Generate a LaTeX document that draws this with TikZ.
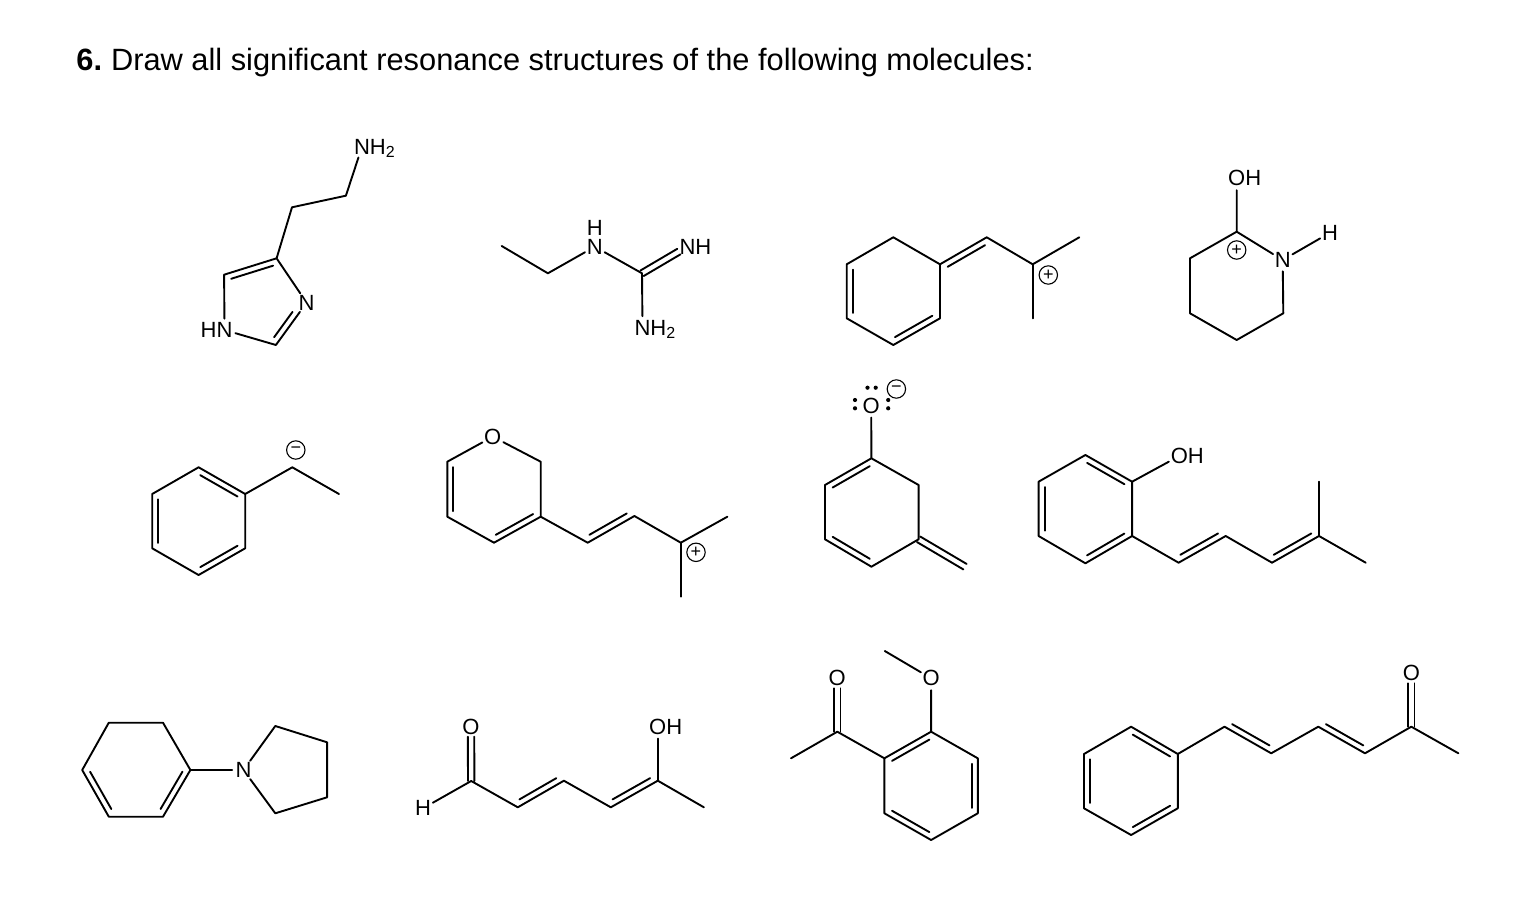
\documentclass[tikz,border=0pt]{standalone}
\usepackage{fontspec}
\setmainfont{Liberation Sans}
\usetikzlibrary{calc}
\tikzset{
  bond/.style={line width=0.95pt,line cap=round,line join=round,black},
  atom/.style={circle,inner sep=0pt,font=\fontsize{11}{13}\selectfont,text=black},
  chg/.style={circle,draw=black,line width=0.55pt,minimum size=9.2pt,inner sep=0pt,font=\fontsize{9}{10}\selectfont},
  lonep/.style={circle,fill=black,minimum size=2.1pt,inner sep=0pt},
  titletext/.style={anchor=base west,inner sep=0pt,font=\fontsize{15.4}{18}\selectfont,text=black}
}
\newcommand{\rtxt}[1]{\rlap{\smash{#1}}}
\newcommand{\ltxt}[1]{\llap{\smash{#1}}}
\newcommand{\subtwo}{\raisebox{-0.3ex}{\fontsize{8}{9}\selectfont 2}}
% inner line of a double bond, on the left of the direction a to b
\newcommand{\dbond}[3][.1]{\draw[bond] ($(#2)!.1!(#3)!3pt!90:(#3)$) -- ($(#3)!#1!(#2)!3pt!-90:(#2)$);}
% centred double bond
\newcommand{\cbond}[3][0pt]{%
  \draw[bond,shorten >=#1] ($(#2)!1.6pt!90:(#3)$) -- ($(#3)!1.6pt!-90:(#2)$);
  \draw[bond,shorten >=#1] ($(#2)!1.6pt!-90:(#3)$) -- ($(#3)!1.6pt!90:(#2)$);}
\begin{document}
\begin{tikzpicture}[x=0.5pt,y=-0.5pt]
\useasboundingbox (0,0) rectangle (1528,920);
\fill[white] (0,0) rectangle (1528,920);
\node[titletext] (title) at (76,70.5) {\textbf{6.}\hspace{-1.2pt} Draw all significant resonance structures of the following molecules:};

% molecule 1
\coordinate (aA) at (276.6,258.3);
\coordinate (aB) at (292,207.3);
\coordinate (aC) at (345.9,195.7);
\node[atom] (aN) at (362,146.7) {N\rtxt{H\subtwo}};
\coordinate (aD) at (224.1,274.7);
\node[atom] (aH) at (224.5,330) {\ltxt{H}N};
\node[atom] (aM) at (306.6,302.7) {N};
\coordinate (aE) at (275.9,345);
\draw[bond] (aN) -- (aC) -- (aB) -- (aA) -- (aD) -- (aH) -- (aE) -- (aM) -- (aA);
\dbond{aA}{aD}
\dbond[.3]{aE}{aM}

% molecule 2
\coordinate (bA) at (501.7,246);
\coordinate (bB) at (547.9,273.3);
\node[atom] (bN) at (594.8,246.7) {N};
\node[atom] (bH) at (594.8,227.5) {H};
\coordinate (bC) at (642,273.3);
\node[atom] (bI) at (687.5,246.5) {N\rtxt{H}};
\node[atom] (bJ) at (642.5,327.5) {N\rtxt{H\subtwo}};
\draw[bond] (bA) -- (bB) -- (bN) -- (bC) -- (bJ);
\cbond[5pt]{bC}{bI}

% molecule 3
\coordinate (cA) at (940,264.3);
\coordinate (cB) at (893.3,237.3);
\coordinate (cC) at (846.7,264.3);
\coordinate (cD) at (846.7,318.3);
\coordinate (cE) at (893.3,345);
\coordinate (cF) at (940,318.3);
\coordinate (cG) at (986.7,237.3);
\coordinate (cH) at (1032.7,264.3);
\coordinate (cI) at (1079.3,237.3);
\coordinate (cJ) at (1032.7,318.3);
\draw[bond] (cA) -- (cB) -- (cC) -- (cD) -- (cE) -- (cF) -- cycle;
\draw[bond] (cA) -- (cG) -- (cH) -- (cI);
\draw[bond] (cH) -- (cJ);
\dbond{cC}{cD}
\dbond{cE}{cF}
\dbond{cG}{cA}
\node[chg] (cP) at (1048.3,275) {+};

% molecule 4
\coordinate (dA) at (1236.7,231.7);
\node[atom] (dO) at (1236.7,178.3) {O\rtxt{H}};
\node[atom] (dN) at (1282.7,260) {N};
\node[atom] (dH) at (1330,232.7) {H};
\coordinate (dB) at (1190,258.3);
\coordinate (dC) at (1190,313.3);
\coordinate (dD) at (1236.7,340);
\coordinate (dE) at (1283.3,313.3);
\draw[bond] (dO) -- (dA) -- (dB) -- (dC) -- (dD) -- (dE) -- (dN) -- (dA);
\draw[bond] (dN) -- (dH);
\node[chg] (dP) at (1236.7,250) {+};

% molecule 5
\coordinate (eA) at (245.2,494);
\coordinate (eB) at (198.6,467.3);
\coordinate (eC) at (152.2,494);
\coordinate (eD) at (152.2,548.3);
\coordinate (eE) at (198.6,575);
\coordinate (eF) at (245.2,548.3);
\coordinate (eG) at (292.3,467.3);
\coordinate (eH) at (339,494);
\draw[bond] (eA) -- (eB) -- (eC) -- (eD) -- (eE) -- (eF) -- cycle;
\draw[bond] (eA) -- (eG) -- (eH);
\dbond{eA}{eB}
\dbond{eC}{eD}
\dbond{eE}{eF}
\node[chg] (eM) at (295.8,450) {−};

% molecule 6
\node[atom] (fO) at (492.8,436.7) {O};
\coordinate (fA) at (540.7,461.7);
\coordinate (fB) at (540.7,516.7);
\coordinate (fC) at (494,542.7);
\coordinate (fD) at (447.3,516.7);
\coordinate (fE) at (447.3,461.7);
\coordinate (fF) at (587.7,542.7);
\coordinate (fG) at (634.4,516);
\coordinate (fH) at (680.8,542.7);
\coordinate (fI) at (727.4,516.7);
\coordinate (fJ) at (680.8,596.7);
\draw[bond] (fO) -- (fA) -- (fB) -- (fC) -- (fD) -- (fE) -- (fO);
\draw[bond] (fB) -- (fF) -- (fG) -- (fH) -- (fI);
\draw[bond] (fH) -- (fJ);
\dbond{fE}{fD}
\dbond{fC}{fB}
\dbond{fF}{fG}
\node[chg] (fP) at (696,552.3) {+};

% molecule 7
\node[atom] (gO) at (871.2,405.7) {O};
\coordinate (gA) at (871.4,458.3);
\coordinate (gB) at (918.6,485);
\coordinate (gC) at (918.6,539.3);
\coordinate (gD) at (871.4,566.7);
\coordinate (gE) at (825,539.3);
\coordinate (gF) at (825,485);
\coordinate (gG) at (965,566.7);
\draw[bond] (gO) -- (gA) -- (gB) -- (gC) -- (gD) -- (gE) -- (gF) -- (gA);
\dbond{gA}{gF}
\dbond{gE}{gD}
\cbond{gC}{gG}
\node[lonep] (gL1) at (867.5,387.7) {};
\node[lonep] (gL2) at (875.7,387.7) {};
\node[lonep] (gL3) at (855,400) {};
\node[lonep] (gL4) at (855,408.3) {};
\node[lonep] (gL5) at (888.2,400) {};
\node[lonep] (gL6) at (888.2,408.3) {};
\node[chg] (gM) at (896.4,389) {−};

% molecule 8
\coordinate (hA) at (1132.1,481.7);
\coordinate (hB) at (1085.4,455);
\coordinate (hC) at (1038.6,481.7);
\coordinate (hD) at (1038.6,536);
\coordinate (hE) at (1085.4,563.3);
\coordinate (hF) at (1132.1,536);
\node[atom] (hO) at (1179.3,456) {O\rtxt{H}};
\coordinate (hG) at (1178.6,562.7);
\coordinate (hH) at (1225.7,536);
\coordinate (hI) at (1272,562.7);
\coordinate (hJ) at (1319,536);
\coordinate (hK) at (1319,481.7);
\coordinate (hL) at (1365.7,562.7);
\draw[bond] (hA) -- (hB) -- (hC) -- (hD) -- (hE) -- (hF) -- cycle;
\draw[bond] (hA) -- (hO);
\draw[bond] (hF) -- (hG) -- (hH) -- (hI) -- (hJ) -- (hL);
\draw[bond] (hJ) -- (hK);
\dbond{hA}{hB}
\dbond{hC}{hD}
\dbond{hE}{hF}
\dbond{hG}{hH}
\dbond{hI}{hJ}

% molecule 9
\coordinate (iA) at (163,722.7);
\coordinate (iB) at (108.8,722.7);
\coordinate (iC) at (82.2,770);
\coordinate (iD) at (108.8,816.7);
\coordinate (iE) at (163,816.7);
\coordinate (iF) at (190.4,770);
\node[atom] (iN) at (243.5,770) {N};
\coordinate (iG) at (275.3,726);
\coordinate (iH) at (327.1,742.3);
\coordinate (iI) at (327.1,797.3);
\coordinate (iJ) at (275.3,813.3);
\draw[bond] (iA) -- (iB) -- (iC) -- (iD) -- (iE) -- (iF) -- cycle;
\draw[bond] (iF) -- (iN);
\draw[bond] (iN) -- (iG) -- (iH) -- (iI) -- (iJ) -- (iN);
\dbond{iC}{iD}
\dbond{iE}{iF}

% molecule 10
\node[atom] (jH) at (423,808.3) {H};
\coordinate (jA) at (471.2,781);
\node[atom] (jO) at (471,726.7) {O};
\coordinate (jB) at (517.8,807.3);
\coordinate (jC) at (563.9,780.7);
\coordinate (jD) at (610.8,807.3);
\coordinate (jE) at (657.8,780.7);
\node[atom] (jP) at (657.8,726.7) {O\rtxt{H}};
\coordinate (jF) at (703.9,807.3);
\draw[bond] (jH) -- (jA) -- (jB) -- (jC) -- (jD) -- (jE) -- (jF);
\draw[bond] (jE) -- (jP);
\cbond[5pt]{jA}{jO}
\dbond{jB}{jC}
\dbond{jD}{jE}

% molecule 11
\coordinate (kA) at (931.1,731.7);
\coordinate (kB) at (884.4,758.3);
\coordinate (kC) at (884.4,813.3);
\coordinate (kD) at (931.1,840);
\coordinate (kE) at (977.8,813.3);
\coordinate (kF) at (977.8,758.3);
\coordinate (kG) at (837.3,731.7);
\node[atom] (kO) at (837.3,678.3) {O};
\coordinate (kH) at (791,758.3);
\node[atom] (kP) at (931.1,678.3) {O};
\coordinate (kI) at (884.8,651);
\draw[bond] (kA) -- (kB) -- (kC) -- (kD) -- (kE) -- (kF) -- cycle;
\draw[bond] (kB) -- (kG) -- (kH);
\draw[bond] (kA) -- (kP) -- (kI);
\cbond[5pt]{kG}{kO}
\dbond{kA}{kB}
\dbond{kC}{kD}
\dbond{kE}{kF}

% molecule 12
\coordinate (lA) at (1177.8,754);
\coordinate (lB) at (1131.1,726.7);
\coordinate (lC) at (1084,754);
\coordinate (lD) at (1084,808.3);
\coordinate (lE) at (1131.1,835);
\coordinate (lF) at (1177.8,808.3);
\coordinate (lG) at (1224.5,726.7);
\coordinate (lH) at (1271.2,753.3);
\coordinate (lI) at (1318.3,726.7);
\coordinate (lJ) at (1365,753.3);
\coordinate (lK) at (1411.3,726.7);
\node[atom] (lO) at (1411.3,673.3) {O};
\coordinate (lL) at (1458.4,753.3);
\draw[bond] (lA) -- (lB) -- (lC) -- (lD) -- (lE) -- (lF) -- cycle;
\draw[bond] (lA) -- (lG) -- (lH) -- (lI) -- (lJ) -- (lK) -- (lL);
\cbond[5pt]{lK}{lO}
\dbond{lA}{lB}
\dbond{lC}{lD}
\dbond{lE}{lF}
\dbond{lG}{lH}
\dbond{lI}{lJ}
\end{tikzpicture}
\end{document}
